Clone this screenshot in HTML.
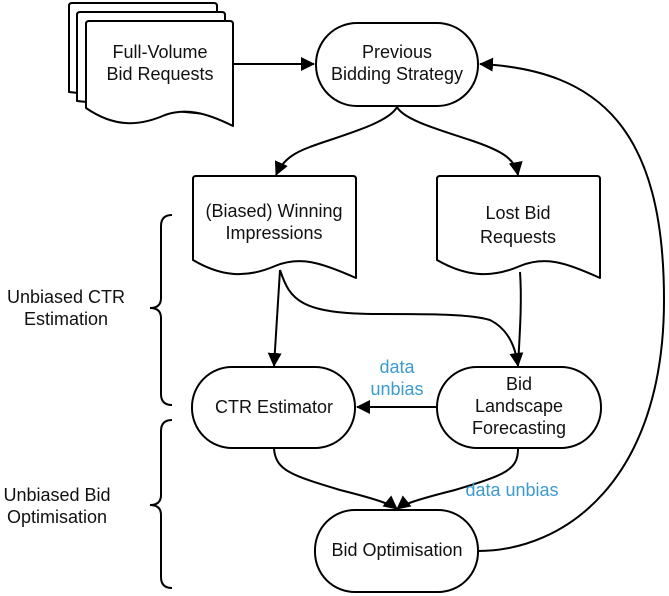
<!DOCTYPE html>
<html><head><meta charset="utf-8"><style>
html,body{margin:0;padding:0;background:#fff;}
svg{display:block;}
text{font-family:"Liberation Sans",sans-serif;font-size:18px;fill:#111;}
.b{fill:#3d9bcf;}
</style></head><body>
<svg width="669" height="596" viewBox="0 0 669 596" xmlns="http://www.w3.org/2000/svg">
<defs>
<marker id="ab" markerWidth="14" markerHeight="14" refX="13" refY="7" orient="auto" markerUnits="userSpaceOnUse" viewBox="0 0 14 14"><path d="M0,0 L14,7 L0,14 z" fill="#000"/></marker>
</defs>
<g fill="#fff" stroke="#000" stroke-width="2" stroke-linejoin="round">
<path d="M69,6 Q69,3 72,3 L214,3 Q217,3 217,6 L217,108 L69,92 Z"/>
<path d="M77,15 Q77,12 80,12 L222,12 Q225,12 225,15 L225,116 L77,101 Z"/>
<path d="M86,24 Q86,21 89,21 L230,21 Q233,21 233,24 L233,126 C205,112 185,108 165,115 C140,126 115,128 86,108 Z"/>
<rect x="316" y="23" width="162" height="83" rx="41" ry="41"/>
<path d="M193,179 Q193,176 196,176 L353,176 Q356,176 356,179 L356,278 C320,262 300,256 275,266 C245,279 220,276 193,260 Z"/>
<path d="M437,179 Q437,176 440,176 L597,176 Q600,176 600,179 L600,278 C565,262 545,256 520,266 C490,279 465,276 437,260 Z"/>
<rect x="192" y="367" width="163" height="81" rx="40" ry="40"/>
<rect x="437" y="367" width="164" height="81" rx="40" ry="40"/>
<rect x="315" y="510" width="163" height="82" rx="40" ry="40"/>
</g>
<g fill="none" stroke="#000" stroke-width="2">
<path d="M233,64 L314,64" marker-end="url(#ab)"/>
<path d="M397,107 C390,120 360,130 330,140 C300,150 285,155 276,175" marker-end="url(#ab)"/>
<path d="M397,107 C404,120 440,130 470,140 C500,150 515,158 518,175" marker-end="url(#ab)"/>
<path d="M280,270 C278,300 276,330 274,366" marker-end="url(#ab)"/>
<path d="M280,270 C290,300 300,314 380,314 C430,314 470,314 490,320 C510,330 516,350 518,366" marker-end="url(#ab)"/>
<path d="M520,272 C522,300 520,330 518,366"/>
<path d="M437,407 L357,407" marker-end="url(#ab)"/>
<path d="M274,449 C276,470 290,475 340,490 C380,500 392,505 397,509" marker-end="url(#ab)"/>
<path d="M518,449 C518,470 505,475 455,490 C415,500 402,505 397,509" marker-end="url(#ab)"/>
<path d="M478,551 C565,551 664,480 664,300 C664,130 600,70 480,64" marker-end="url(#ab)"/>
<path d="M172,215 Q161,215 161,226 L161,298 Q161,308 150,308 Q161,308 161,318 L161,394 Q161,405 172,405"/>
<path d="M172,420 Q161,420 161,431 L161,495 Q161,505 150,505 Q161,505 161,515 L161,577 Q161,588 172,588"/>
</g>
<g text-anchor="middle">
<text x="160" y="58">Full-Volume</text>
<text x="160" y="80">Bid Requests</text>
<text x="397" y="58">Previous</text>
<text x="397" y="80">Bidding Strategy</text>
<text x="274" y="217">(Biased) Winning</text>
<text x="274" y="239">Impressions</text>
<text x="518" y="219">Lost Bid</text>
<text x="518" y="243">Requests</text>
<text x="274" y="413">CTR Estimator</text>
<text x="519" y="390">Bid</text>
<text x="519" y="412">Landscape</text>
<text x="519" y="434">Forecasting</text>
<text x="397" y="556">Bid Optimisation</text>
<text x="66" y="303">Unbiased CTR</text>
<text x="66" y="325">Estimation</text>
<text x="57" y="501">Unbiased Bid</text>
<text x="57" y="523">Optimisation</text>
<text class="b" x="397" y="373">data</text>
<text class="b" x="397" y="395">unbias</text>
<text class="b" x="512" y="496">data unbias</text>
</g>
</svg>
</body></html>
